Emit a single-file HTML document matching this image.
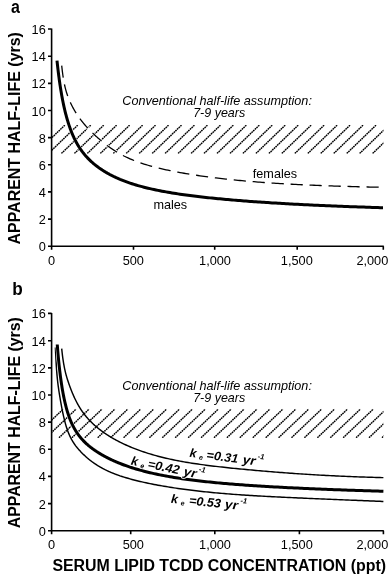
<!DOCTYPE html>
<html><head><meta charset="utf-8"><title>Apparent half-life vs serum lipid TCDD concentration</title>
<style>html,body{margin:0;padding:0;background:#fff}svg{display:block}</style></head><body>
<svg width="392" height="575" viewBox="0 0 392 575" font-family="'Liberation Sans', Arial, Helvetica, sans-serif" fill="#000">
<rect width="392" height="575" fill="#fff"/>
<g>
<clipPath id="ca"><rect x="51.6" y="124.7" width="331.9" height="29.1"/></clipPath>
<path d="M22.5,153.5 L52.0,125.0 M35.5,153.5 L65.0,125.0 M48.4,153.5 L77.9,125.0 M61.4,153.5 L90.9,125.0 M74.4,153.5 L103.9,125.0 M87.3,153.5 L116.8,125.0 M100.3,153.5 L129.8,125.0 M113.3,153.5 L142.8,125.0 M126.2,153.5 L155.7,125.0 M139.2,153.5 L168.7,125.0 M152.2,153.5 L181.7,125.0 M165.1,153.5 L194.6,125.0 M178.1,153.5 L207.6,125.0 M191.1,153.5 L220.6,125.0 M204.0,153.5 L233.5,125.0 M217.0,153.5 L246.5,125.0 M230.0,153.5 L259.5,125.0 M242.9,153.5 L272.4,125.0 M255.9,153.5 L285.4,125.0 M268.9,153.5 L298.4,125.0 M281.8,153.5 L311.3,125.0 M294.8,153.5 L324.3,125.0 M307.8,153.5 L337.3,125.0 M320.7,153.5 L350.2,125.0 M333.7,153.5 L363.2,125.0 M346.7,153.5 L376.2,125.0 M359.6,153.5 L389.1,125.0 M372.6,153.5 L402.1,125.0 M385.6,153.5 L415.1,125.0" stroke="#000" stroke-width="1.45" stroke-dasharray="1.7 0.6" fill="none" clip-path="url(#ca)"/>
<path d="M61.70,65.56 L61.95,67.89 L62.20,70.06 L62.45,72.09 L62.70,73.98 L62.95,75.75 L63.20,77.41 L63.45,78.97 L63.70,80.44 L63.95,81.82 L64.20,83.12 L64.45,84.34 L64.70,85.50 L64.95,86.60 L65.20,87.65 L65.45,88.64 L65.70,89.59 L65.95,90.49 L66.20,91.36 L66.45,92.19 L66.70,92.98 L66.95,93.75 L67.20,94.49 L67.45,95.21 L67.70,95.91 L67.95,96.59 L68.20,97.25 L68.45,97.89 L68.70,98.52 L68.95,99.14 L69.20,99.75 L69.45,100.34 L69.70,100.93 L69.95,101.50 L70.20,102.07 L70.45,102.62 L70.70,103.16 L70.95,103.70 L71.20,104.22 L71.45,104.74 L71.70,105.25 L71.95,105.75 L72.20,106.24 L72.45,106.72 L72.70,107.20 L72.95,107.67 L73.20,108.14 L73.45,108.59 L73.70,109.05 L73.95,109.49 L74.20,109.93 L74.45,110.36 L74.70,110.79 L74.95,111.21 L75.20,111.63 L75.45,112.04 L75.70,112.45 L75.95,112.85 L76.20,113.25 L76.45,113.64 L76.70,114.03 L76.95,114.41 L77.20,114.79 L77.45,115.16 L77.70,115.54 L77.95,115.90 L78.20,116.27 L78.45,116.63 L78.70,116.98 L78.95,117.34 L79.20,117.69 L79.45,118.03 L79.70,118.38 L79.95,118.72 L80.20,119.05 L80.45,119.39 L80.70,119.72 L80.95,120.05 L81.20,120.37 L81.45,120.70 L81.70,121.02 L81.95,121.34 L82.20,121.65 L82.45,121.96 L82.70,122.27 L82.95,122.58 L83.20,122.89 L83.45,123.19 L83.70,123.49 L83.95,123.79 L84.20,124.09 L84.45,124.38 L84.70,124.67 L84.95,124.96 L85.20,125.25 L85.45,125.54 L85.70,125.82 L85.95,126.10 L86.20,126.38 L86.45,126.66 L86.70,126.94 L86.95,127.22 L87.20,127.49 L87.45,127.76 L87.70,128.03 L87.95,128.30 L88.20,128.57 L88.45,128.83 L88.70,129.10 L88.95,129.36 L89.20,129.62 L89.45,129.88 L89.70,130.14 L89.95,130.39 L90.20,130.65 L90.45,130.90 L90.70,131.15 L90.95,131.40 L91.20,131.65 L91.45,131.90 L91.70,132.15 L91.95,132.39 L92.20,132.64 L92.45,132.88 L92.70,133.12 L92.95,133.37 L93.20,133.61 L93.45,133.84 L93.70,134.08 L93.95,134.32 L94.20,134.55 L94.45,134.79 L94.70,135.02 L94.95,135.25 L95.20,135.48 L95.45,135.71 L95.70,135.94 L95.95,136.17 L96.20,136.40 L96.45,136.62 L96.70,136.85 L96.95,137.07 L97.20,137.30 L97.45,137.52 L97.70,137.74 L97.95,137.96 L98.20,138.18 L98.45,138.40 L98.70,138.62 L98.95,138.83 L99.20,139.05 L99.45,139.27 L99.70,139.48 L99.95,139.69 L100.20,139.91 L100.45,140.12 L100.70,140.33 L100.95,140.54 L101.20,140.75 L101.45,140.96 L101.70,141.17 L101.95,141.37 L102.20,141.58 L102.45,141.78 L102.70,141.99 L102.95,142.19 L103.20,142.39 L103.45,142.59 L103.70,142.79 L103.95,142.99 L104.20,143.19 L104.45,143.39 L104.70,143.58 L104.95,143.78 L105.20,143.97 L105.45,144.17 L105.70,144.36 L105.95,144.55 L106.20,144.74 L106.45,144.93 L106.70,145.12 L106.95,145.31 L107.20,145.50 L107.45,145.68 L107.70,145.87 L107.95,146.05 L108.20,146.24 L108.45,146.42 L108.70,146.60 L108.95,146.78 L109.20,146.96 L109.45,147.14 L109.70,147.32 L109.95,147.49 L110.20,147.67 L110.45,147.84 L110.70,148.02 L110.95,148.19 L111.20,148.36 L111.45,148.53 L111.70,148.70 L111.95,148.87 L112.20,149.04 L112.45,149.21 L112.70,149.38 L112.95,149.54 L113.20,149.71 L113.45,149.87 L113.70,150.03 L113.95,150.20 L114.20,150.36 L114.45,150.52 L114.70,150.68 L114.95,150.84 L115.20,150.99 L115.45,151.15 L115.70,151.31 L115.95,151.46 L116.20,151.62 L116.45,151.77 L116.70,151.92 L116.95,152.07 L117.20,152.22 L117.45,152.37 L117.70,152.52 L117.95,152.67 L118.20,152.82 L118.45,152.97 L118.70,153.11 L118.95,153.26 L119.20,153.40 L119.45,153.54 L119.70,153.68 L119.95,153.83 L120.00,153.85 L122.00,154.95 L124.00,156.00 L126.00,156.99 L128.00,157.94 L130.00,158.84 L132.00,159.69 L134.00,160.50 L136.00,161.27 L138.00,162.01 L140.00,162.71 L142.00,163.39 L144.00,164.03 L146.00,164.65 L148.00,165.25 L150.00,165.82 L152.00,166.38 L154.00,166.91 L156.00,167.42 L158.00,167.92 L160.00,168.40 L162.00,168.87 L164.00,169.32 L166.00,169.76 L168.00,170.19 L170.00,170.60 L172.00,171.01 L174.00,171.40 L176.00,171.79 L178.00,172.16 L180.00,172.53 L182.00,172.89 L184.00,173.24 L186.00,173.59 L188.00,173.92 L190.00,174.25 L192.00,174.57 L194.00,174.89 L196.00,175.19 L198.00,175.49 L200.00,175.79 L202.00,176.08 L204.00,176.36 L206.00,176.63 L208.00,176.90 L210.00,177.16 L212.00,177.42 L214.00,177.67 L216.00,177.92 L218.00,178.16 L220.00,178.40 L222.00,178.63 L224.00,178.86 L226.00,179.08 L228.00,179.29 L230.00,179.51 L232.00,179.71 L234.00,179.92 L236.00,180.11 L238.00,180.31 L240.00,180.50 L242.00,180.68 L244.00,180.87 L246.00,181.04 L248.00,181.22 L250.00,181.39 L252.00,181.56 L254.00,181.72 L256.00,181.88 L258.00,182.03 L260.00,182.19 L262.00,182.34 L264.00,182.48 L266.00,182.63 L268.00,182.77 L270.00,182.90 L272.00,183.04 L274.00,183.17 L276.00,183.30 L278.00,183.42 L280.00,183.54 L282.00,183.66 L284.00,183.78 L286.00,183.90 L288.00,184.01 L290.00,184.12 L292.00,184.23 L294.00,184.33 L296.00,184.44 L298.00,184.54 L300.00,184.64 L302.00,184.73 L304.00,184.83 L306.00,184.92 L308.00,185.01 L310.00,185.10 L312.00,185.19 L314.00,185.27 L316.00,185.36 L318.00,185.44 L320.00,185.52 L322.00,185.60 L324.00,185.67 L326.00,185.75 L328.00,185.82 L330.00,185.89 L332.00,185.96 L334.00,186.03 L336.00,186.10 L338.00,186.16 L340.00,186.23 L342.00,186.29 L344.00,186.35 L346.00,186.41 L348.00,186.47 L350.00,186.52 L352.00,186.58 L354.00,186.64 L356.00,186.69 L358.00,186.74 L360.00,186.79 L362.00,186.84 L364.00,186.89 L366.00,186.94 L368.00,186.98 L370.00,187.03 L372.00,187.07 L374.00,187.11 L376.00,187.16 L378.00,187.20 L378.70,187.21" stroke="#fff" stroke-width="2.6" fill="none"/>
<path d="M61.70,65.56 L61.95,67.89 L62.20,70.06 L62.45,72.09 L62.70,73.98 L62.95,75.75 L63.20,77.41 L63.45,78.97 L63.70,80.44 L63.95,81.82 L64.20,83.12 L64.45,84.34 L64.70,85.50 L64.95,86.60 L65.20,87.65 L65.45,88.64 L65.70,89.59 L65.95,90.49 L66.20,91.36 L66.45,92.19 L66.70,92.98 L66.95,93.75 L67.20,94.49 L67.45,95.21 L67.70,95.91 L67.95,96.59 L68.20,97.25 L68.45,97.89 L68.70,98.52 L68.95,99.14 L69.20,99.75 L69.45,100.34 L69.70,100.93 L69.95,101.50 L70.20,102.07 L70.45,102.62 L70.70,103.16 L70.95,103.70 L71.20,104.22 L71.45,104.74 L71.70,105.25 L71.95,105.75 L72.20,106.24 L72.45,106.72 L72.70,107.20 L72.95,107.67 L73.20,108.14 L73.45,108.59 L73.70,109.05 L73.95,109.49 L74.20,109.93 L74.45,110.36 L74.70,110.79 L74.95,111.21 L75.20,111.63 L75.45,112.04 L75.70,112.45 L75.95,112.85 L76.20,113.25 L76.45,113.64 L76.70,114.03 L76.95,114.41 L77.20,114.79 L77.45,115.16 L77.70,115.54 L77.95,115.90 L78.20,116.27 L78.45,116.63 L78.70,116.98 L78.95,117.34 L79.20,117.69 L79.45,118.03 L79.70,118.38 L79.95,118.72 L80.20,119.05 L80.45,119.39 L80.70,119.72 L80.95,120.05 L81.20,120.37 L81.45,120.70 L81.70,121.02 L81.95,121.34 L82.20,121.65 L82.45,121.96 L82.70,122.27 L82.95,122.58 L83.20,122.89 L83.45,123.19 L83.70,123.49 L83.95,123.79 L84.20,124.09 L84.45,124.38 L84.70,124.67 L84.95,124.96 L85.20,125.25 L85.45,125.54 L85.70,125.82 L85.95,126.10 L86.20,126.38 L86.45,126.66 L86.70,126.94 L86.95,127.22 L87.20,127.49 L87.45,127.76 L87.70,128.03 L87.95,128.30 L88.20,128.57 L88.45,128.83 L88.70,129.10 L88.95,129.36 L89.20,129.62 L89.45,129.88 L89.70,130.14 L89.95,130.39 L90.20,130.65 L90.45,130.90 L90.70,131.15 L90.95,131.40 L91.20,131.65 L91.45,131.90 L91.70,132.15 L91.95,132.39 L92.20,132.64 L92.45,132.88 L92.70,133.12 L92.95,133.37 L93.20,133.61 L93.45,133.84 L93.70,134.08 L93.95,134.32 L94.20,134.55 L94.45,134.79 L94.70,135.02 L94.95,135.25 L95.20,135.48 L95.45,135.71 L95.70,135.94 L95.95,136.17 L96.20,136.40 L96.45,136.62 L96.70,136.85 L96.95,137.07 L97.20,137.30 L97.45,137.52 L97.70,137.74 L97.95,137.96 L98.20,138.18 L98.45,138.40 L98.70,138.62 L98.95,138.83 L99.20,139.05 L99.45,139.27 L99.70,139.48 L99.95,139.69 L100.20,139.91 L100.45,140.12 L100.70,140.33 L100.95,140.54 L101.20,140.75 L101.45,140.96 L101.70,141.17 L101.95,141.37 L102.20,141.58 L102.45,141.78 L102.70,141.99 L102.95,142.19 L103.20,142.39 L103.45,142.59 L103.70,142.79 L103.95,142.99 L104.20,143.19 L104.45,143.39 L104.70,143.58 L104.95,143.78 L105.20,143.97 L105.45,144.17 L105.70,144.36 L105.95,144.55 L106.20,144.74 L106.45,144.93 L106.70,145.12 L106.95,145.31 L107.20,145.50 L107.45,145.68 L107.70,145.87 L107.95,146.05 L108.20,146.24 L108.45,146.42 L108.70,146.60 L108.95,146.78 L109.20,146.96 L109.45,147.14 L109.70,147.32 L109.95,147.49 L110.20,147.67 L110.45,147.84 L110.70,148.02 L110.95,148.19 L111.20,148.36 L111.45,148.53 L111.70,148.70 L111.95,148.87 L112.20,149.04 L112.45,149.21 L112.70,149.38 L112.95,149.54 L113.20,149.71 L113.45,149.87 L113.70,150.03 L113.95,150.20 L114.20,150.36 L114.45,150.52 L114.70,150.68 L114.95,150.84 L115.20,150.99 L115.45,151.15 L115.70,151.31 L115.95,151.46 L116.20,151.62 L116.45,151.77 L116.70,151.92 L116.95,152.07 L117.20,152.22 L117.45,152.37 L117.70,152.52 L117.95,152.67 L118.20,152.82 L118.45,152.97 L118.70,153.11 L118.95,153.26 L119.20,153.40 L119.45,153.54 L119.70,153.68 L119.95,153.83 L120.00,153.85 L122.00,154.95 L124.00,156.00 L126.00,156.99 L128.00,157.94 L130.00,158.84 L132.00,159.69 L134.00,160.50 L136.00,161.27 L138.00,162.01 L140.00,162.71 L142.00,163.39 L144.00,164.03 L146.00,164.65 L148.00,165.25 L150.00,165.82 L152.00,166.38 L154.00,166.91 L156.00,167.42 L158.00,167.92 L160.00,168.40 L162.00,168.87 L164.00,169.32 L166.00,169.76 L168.00,170.19 L170.00,170.60 L172.00,171.01 L174.00,171.40 L176.00,171.79 L178.00,172.16 L180.00,172.53 L182.00,172.89 L184.00,173.24 L186.00,173.59 L188.00,173.92 L190.00,174.25 L192.00,174.57 L194.00,174.89 L196.00,175.19 L198.00,175.49 L200.00,175.79 L202.00,176.08 L204.00,176.36 L206.00,176.63 L208.00,176.90 L210.00,177.16 L212.00,177.42 L214.00,177.67 L216.00,177.92 L218.00,178.16 L220.00,178.40 L222.00,178.63 L224.00,178.86 L226.00,179.08 L228.00,179.29 L230.00,179.51 L232.00,179.71 L234.00,179.92 L236.00,180.11 L238.00,180.31 L240.00,180.50 L242.00,180.68 L244.00,180.87 L246.00,181.04 L248.00,181.22 L250.00,181.39 L252.00,181.56 L254.00,181.72 L256.00,181.88 L258.00,182.03 L260.00,182.19 L262.00,182.34 L264.00,182.48 L266.00,182.63 L268.00,182.77 L270.00,182.90 L272.00,183.04 L274.00,183.17 L276.00,183.30 L278.00,183.42 L280.00,183.54 L282.00,183.66 L284.00,183.78 L286.00,183.90 L288.00,184.01 L290.00,184.12 L292.00,184.23 L294.00,184.33 L296.00,184.44 L298.00,184.54 L300.00,184.64 L302.00,184.73 L304.00,184.83 L306.00,184.92 L308.00,185.01 L310.00,185.10 L312.00,185.19 L314.00,185.27 L316.00,185.36 L318.00,185.44 L320.00,185.52 L322.00,185.60 L324.00,185.67 L326.00,185.75 L328.00,185.82 L330.00,185.89 L332.00,185.96 L334.00,186.03 L336.00,186.10 L338.00,186.16 L340.00,186.23 L342.00,186.29 L344.00,186.35 L346.00,186.41 L348.00,186.47 L350.00,186.52 L352.00,186.58 L354.00,186.64 L356.00,186.69 L358.00,186.74 L360.00,186.79 L362.00,186.84 L364.00,186.89 L366.00,186.94 L368.00,186.98 L370.00,187.03 L372.00,187.07 L374.00,187.11 L376.00,187.16 L378.00,187.20 L378.70,187.21" stroke="#000" stroke-width="1.3" fill="none" stroke-dasharray="12.2 6.8"/>
<path d="M57.01,60.70 L57.25,63.00 L57.50,65.28 L57.75,67.50 L58.00,69.65 L58.25,71.73 L58.50,73.75 L58.75,75.71 L59.00,77.61 L59.25,79.46 L59.50,81.26 L59.75,83.00 L60.00,84.70 L60.25,86.36 L60.50,87.97 L60.75,89.54 L61.00,91.06 L61.25,92.55 L61.50,94.00 L61.75,95.42 L62.00,96.79 L62.25,98.14 L62.50,99.45 L62.75,100.73 L63.00,101.99 L63.25,103.21 L63.50,104.40 L63.75,105.57 L64.00,106.71 L64.25,107.83 L64.50,108.92 L64.75,109.98 L65.00,111.03 L65.25,112.05 L65.50,113.05 L65.75,114.03 L66.00,114.99 L66.25,115.93 L66.50,116.85 L66.75,117.75 L67.00,118.63 L67.25,119.50 L67.50,120.35 L67.75,121.19 L68.00,122.00 L68.25,122.80 L68.50,123.59 L68.75,124.36 L69.00,125.12 L69.25,125.87 L69.50,126.60 L69.75,127.31 L70.00,128.02 L70.25,128.71 L70.50,129.39 L70.75,130.06 L71.00,130.71 L71.25,131.36 L71.50,131.99 L71.75,132.62 L72.00,133.23 L72.25,133.83 L72.50,134.42 L72.75,135.00 L73.00,135.58 L73.25,136.14 L73.50,136.69 L73.75,137.24 L74.00,137.77 L74.25,138.30 L74.50,138.82 L74.75,139.33 L75.00,139.83 L75.25,140.33 L75.50,140.81 L75.75,141.29 L76.00,141.76 L76.25,142.23 L76.50,142.69 L76.75,143.14 L77.00,143.58 L77.25,144.02 L77.50,144.45 L77.75,144.88 L78.00,145.30 L78.25,145.71 L78.50,146.12 L78.75,146.52 L79.00,146.91 L79.25,147.31 L79.50,147.69 L79.75,148.07 L80.00,148.45 L80.25,148.82 L80.50,149.19 L80.75,149.55 L81.00,149.90 L81.25,150.26 L81.50,150.60 L81.75,150.95 L82.00,151.29 L82.25,151.62 L82.50,151.96 L82.75,152.28 L83.00,152.61 L83.25,152.93 L83.50,153.24 L83.75,153.56 L84.00,153.86 L84.25,154.17 L84.50,154.47 L84.75,154.77 L85.00,155.07 L85.25,155.36 L85.50,155.65 L85.75,155.93 L86.00,156.22 L86.25,156.50 L86.50,156.77 L86.75,157.05 L87.00,157.32 L87.25,157.59 L87.50,157.85 L87.75,158.12 L88.00,158.38 L88.25,158.64 L88.50,158.89 L88.75,159.14 L89.00,159.39 L89.25,159.64 L89.50,159.89 L89.75,160.13 L90.00,160.37 L90.25,160.61 L90.50,160.85 L90.75,161.08 L91.00,161.32 L91.25,161.55 L91.50,161.77 L91.75,162.00 L92.00,162.22 L92.25,162.45 L92.50,162.67 L92.75,162.89 L93.00,163.10 L93.25,163.32 L93.50,163.53 L93.75,163.74 L94.00,163.95 L94.25,164.16 L94.50,164.36 L94.75,164.57 L95.00,164.77 L95.25,164.97 L95.50,165.17 L95.75,165.37 L96.00,165.57 L96.25,165.76 L96.50,165.95 L96.75,166.14 L97.00,166.34 L97.25,166.52 L97.50,166.71 L97.75,166.90 L98.00,167.08 L98.25,167.27 L98.50,167.45 L98.75,167.63 L99.00,167.81 L99.25,167.99 L99.50,168.16 L99.75,168.34 L100.00,168.51 L100.25,168.68 L100.50,168.86 L100.75,169.03 L101.00,169.20 L101.25,169.36 L101.50,169.53 L101.75,169.70 L102.00,169.86 L102.25,170.03 L102.50,170.19 L102.75,170.35 L103.00,170.51 L103.25,170.67 L103.50,170.83 L103.75,170.98 L104.00,171.14 L104.25,171.29 L104.50,171.45 L104.75,171.60 L105.00,171.75 L105.25,171.90 L105.50,172.05 L105.75,172.20 L106.00,172.35 L106.25,172.49 L106.50,172.64 L106.75,172.79 L107.00,172.93 L107.25,173.07 L107.50,173.21 L107.75,173.36 L108.00,173.50 L108.25,173.63 L108.50,173.77 L108.75,173.91 L109.00,174.05 L109.25,174.18 L109.50,174.32 L109.75,174.45 L110.00,174.59 L110.25,174.72 L110.50,174.85 L110.75,174.98 L111.00,175.11 L111.25,175.24 L111.50,175.37 L111.75,175.50 L112.00,175.62 L112.25,175.75 L112.50,175.87 L112.75,176.00 L113.00,176.12 L113.25,176.24 L113.50,176.37 L113.75,176.49 L114.00,176.61 L114.25,176.73 L114.50,176.85 L114.75,176.97 L115.00,177.09 L115.25,177.20 L115.50,177.32 L115.75,177.44 L116.00,177.55 L116.25,177.66 L116.50,177.78 L116.75,177.89 L117.00,178.00 L117.25,178.12 L117.50,178.23 L117.75,178.34 L118.00,178.45 L118.25,178.56 L118.50,178.67 L118.75,178.77 L119.00,178.88 L119.25,178.99 L119.50,179.10 L119.75,179.20 L120.00,179.31 L122.00,180.13 L124.00,180.91 L126.00,181.66 L128.00,182.38 L130.00,183.07 L132.00,183.73 L134.00,184.37 L136.00,184.98 L138.00,185.57 L140.00,186.13 L142.00,186.67 L144.00,187.20 L146.00,187.70 L148.00,188.19 L150.00,188.66 L152.00,189.11 L154.00,189.55 L156.00,189.97 L158.00,190.38 L160.00,190.78 L162.00,191.16 L164.00,191.53 L166.00,191.90 L168.00,192.25 L170.00,192.59 L172.00,192.92 L174.00,193.24 L176.00,193.56 L178.00,193.86 L180.00,194.16 L182.00,194.45 L184.00,194.73 L186.00,195.01 L188.00,195.28 L190.00,195.54 L192.00,195.80 L194.00,196.05 L196.00,196.29 L198.00,196.53 L200.00,196.77 L202.00,197.00 L204.00,197.22 L206.00,197.44 L208.00,197.66 L210.00,197.87 L212.00,198.07 L214.00,198.28 L216.00,198.48 L218.00,198.67 L220.00,198.86 L222.00,199.05 L224.00,199.24 L226.00,199.42 L228.00,199.60 L230.00,199.77 L232.00,199.95 L234.00,200.12 L236.00,200.28 L238.00,200.45 L240.00,200.61 L242.00,200.77 L244.00,200.93 L246.00,201.08 L248.00,201.23 L250.00,201.38 L252.00,201.53 L254.00,201.67 L256.00,201.81 L258.00,201.95 L260.00,202.09 L262.00,202.23 L264.00,202.36 L266.00,202.49 L268.00,202.62 L270.00,202.75 L272.00,202.88 L274.00,203.00 L276.00,203.12 L278.00,203.24 L280.00,203.36 L282.00,203.48 L284.00,203.60 L286.00,203.71 L288.00,203.82 L290.00,203.93 L292.00,204.04 L294.00,204.15 L296.00,204.25 L298.00,204.36 L300.00,204.46 L302.00,204.56 L304.00,204.66 L306.00,204.76 L308.00,204.86 L310.00,204.95 L312.00,205.05 L314.00,205.14 L316.00,205.23 L318.00,205.33 L320.00,205.42 L322.00,205.50 L324.00,205.59 L326.00,205.68 L328.00,205.76 L330.00,205.85 L332.00,205.93 L334.00,206.01 L336.00,206.09 L338.00,206.17 L340.00,206.25 L342.00,206.33 L344.00,206.40 L346.00,206.48 L348.00,206.56 L350.00,206.63 L352.00,206.70 L354.00,206.77 L356.00,206.84 L358.00,206.91 L360.00,206.98 L362.00,207.05 L364.00,207.12 L366.00,207.19 L368.00,207.25 L370.00,207.32 L372.00,207.38 L374.00,207.44 L376.00,207.51 L378.00,207.57 L380.00,207.63 L382.00,207.69 L383.00,207.72" stroke="#fff" stroke-width="3.8" fill="none"/>
<path d="M57.01,60.70 L57.25,63.00 L57.50,65.28 L57.75,67.50 L58.00,69.65 L58.25,71.73 L58.50,73.75 L58.75,75.71 L59.00,77.61 L59.25,79.46 L59.50,81.26 L59.75,83.00 L60.00,84.70 L60.25,86.36 L60.50,87.97 L60.75,89.54 L61.00,91.06 L61.25,92.55 L61.50,94.00 L61.75,95.42 L62.00,96.79 L62.25,98.14 L62.50,99.45 L62.75,100.73 L63.00,101.99 L63.25,103.21 L63.50,104.40 L63.75,105.57 L64.00,106.71 L64.25,107.83 L64.50,108.92 L64.75,109.98 L65.00,111.03 L65.25,112.05 L65.50,113.05 L65.75,114.03 L66.00,114.99 L66.25,115.93 L66.50,116.85 L66.75,117.75 L67.00,118.63 L67.25,119.50 L67.50,120.35 L67.75,121.19 L68.00,122.00 L68.25,122.80 L68.50,123.59 L68.75,124.36 L69.00,125.12 L69.25,125.87 L69.50,126.60 L69.75,127.31 L70.00,128.02 L70.25,128.71 L70.50,129.39 L70.75,130.06 L71.00,130.71 L71.25,131.36 L71.50,131.99 L71.75,132.62 L72.00,133.23 L72.25,133.83 L72.50,134.42 L72.75,135.00 L73.00,135.58 L73.25,136.14 L73.50,136.69 L73.75,137.24 L74.00,137.77 L74.25,138.30 L74.50,138.82 L74.75,139.33 L75.00,139.83 L75.25,140.33 L75.50,140.81 L75.75,141.29 L76.00,141.76 L76.25,142.23 L76.50,142.69 L76.75,143.14 L77.00,143.58 L77.25,144.02 L77.50,144.45 L77.75,144.88 L78.00,145.30 L78.25,145.71 L78.50,146.12 L78.75,146.52 L79.00,146.91 L79.25,147.31 L79.50,147.69 L79.75,148.07 L80.00,148.45 L80.25,148.82 L80.50,149.19 L80.75,149.55 L81.00,149.90 L81.25,150.26 L81.50,150.60 L81.75,150.95 L82.00,151.29 L82.25,151.62 L82.50,151.96 L82.75,152.28 L83.00,152.61 L83.25,152.93 L83.50,153.24 L83.75,153.56 L84.00,153.86 L84.25,154.17 L84.50,154.47 L84.75,154.77 L85.00,155.07 L85.25,155.36 L85.50,155.65 L85.75,155.93 L86.00,156.22 L86.25,156.50 L86.50,156.77 L86.75,157.05 L87.00,157.32 L87.25,157.59 L87.50,157.85 L87.75,158.12 L88.00,158.38 L88.25,158.64 L88.50,158.89 L88.75,159.14 L89.00,159.39 L89.25,159.64 L89.50,159.89 L89.75,160.13 L90.00,160.37 L90.25,160.61 L90.50,160.85 L90.75,161.08 L91.00,161.32 L91.25,161.55 L91.50,161.77 L91.75,162.00 L92.00,162.22 L92.25,162.45 L92.50,162.67 L92.75,162.89 L93.00,163.10 L93.25,163.32 L93.50,163.53 L93.75,163.74 L94.00,163.95 L94.25,164.16 L94.50,164.36 L94.75,164.57 L95.00,164.77 L95.25,164.97 L95.50,165.17 L95.75,165.37 L96.00,165.57 L96.25,165.76 L96.50,165.95 L96.75,166.14 L97.00,166.34 L97.25,166.52 L97.50,166.71 L97.75,166.90 L98.00,167.08 L98.25,167.27 L98.50,167.45 L98.75,167.63 L99.00,167.81 L99.25,167.99 L99.50,168.16 L99.75,168.34 L100.00,168.51 L100.25,168.68 L100.50,168.86 L100.75,169.03 L101.00,169.20 L101.25,169.36 L101.50,169.53 L101.75,169.70 L102.00,169.86 L102.25,170.03 L102.50,170.19 L102.75,170.35 L103.00,170.51 L103.25,170.67 L103.50,170.83 L103.75,170.98 L104.00,171.14 L104.25,171.29 L104.50,171.45 L104.75,171.60 L105.00,171.75 L105.25,171.90 L105.50,172.05 L105.75,172.20 L106.00,172.35 L106.25,172.49 L106.50,172.64 L106.75,172.79 L107.00,172.93 L107.25,173.07 L107.50,173.21 L107.75,173.36 L108.00,173.50 L108.25,173.63 L108.50,173.77 L108.75,173.91 L109.00,174.05 L109.25,174.18 L109.50,174.32 L109.75,174.45 L110.00,174.59 L110.25,174.72 L110.50,174.85 L110.75,174.98 L111.00,175.11 L111.25,175.24 L111.50,175.37 L111.75,175.50 L112.00,175.62 L112.25,175.75 L112.50,175.87 L112.75,176.00 L113.00,176.12 L113.25,176.24 L113.50,176.37 L113.75,176.49 L114.00,176.61 L114.25,176.73 L114.50,176.85 L114.75,176.97 L115.00,177.09 L115.25,177.20 L115.50,177.32 L115.75,177.44 L116.00,177.55 L116.25,177.66 L116.50,177.78 L116.75,177.89 L117.00,178.00 L117.25,178.12 L117.50,178.23 L117.75,178.34 L118.00,178.45 L118.25,178.56 L118.50,178.67 L118.75,178.77 L119.00,178.88 L119.25,178.99 L119.50,179.10 L119.75,179.20 L120.00,179.31 L122.00,180.13 L124.00,180.91 L126.00,181.66 L128.00,182.38 L130.00,183.07 L132.00,183.73 L134.00,184.37 L136.00,184.98 L138.00,185.57 L140.00,186.13 L142.00,186.67 L144.00,187.20 L146.00,187.70 L148.00,188.19 L150.00,188.66 L152.00,189.11 L154.00,189.55 L156.00,189.97 L158.00,190.38 L160.00,190.78 L162.00,191.16 L164.00,191.53 L166.00,191.90 L168.00,192.25 L170.00,192.59 L172.00,192.92 L174.00,193.24 L176.00,193.56 L178.00,193.86 L180.00,194.16 L182.00,194.45 L184.00,194.73 L186.00,195.01 L188.00,195.28 L190.00,195.54 L192.00,195.80 L194.00,196.05 L196.00,196.29 L198.00,196.53 L200.00,196.77 L202.00,197.00 L204.00,197.22 L206.00,197.44 L208.00,197.66 L210.00,197.87 L212.00,198.07 L214.00,198.28 L216.00,198.48 L218.00,198.67 L220.00,198.86 L222.00,199.05 L224.00,199.24 L226.00,199.42 L228.00,199.60 L230.00,199.77 L232.00,199.95 L234.00,200.12 L236.00,200.28 L238.00,200.45 L240.00,200.61 L242.00,200.77 L244.00,200.93 L246.00,201.08 L248.00,201.23 L250.00,201.38 L252.00,201.53 L254.00,201.67 L256.00,201.81 L258.00,201.95 L260.00,202.09 L262.00,202.23 L264.00,202.36 L266.00,202.49 L268.00,202.62 L270.00,202.75 L272.00,202.88 L274.00,203.00 L276.00,203.12 L278.00,203.24 L280.00,203.36 L282.00,203.48 L284.00,203.60 L286.00,203.71 L288.00,203.82 L290.00,203.93 L292.00,204.04 L294.00,204.15 L296.00,204.25 L298.00,204.36 L300.00,204.46 L302.00,204.56 L304.00,204.66 L306.00,204.76 L308.00,204.86 L310.00,204.95 L312.00,205.05 L314.00,205.14 L316.00,205.23 L318.00,205.33 L320.00,205.42 L322.00,205.50 L324.00,205.59 L326.00,205.68 L328.00,205.76 L330.00,205.85 L332.00,205.93 L334.00,206.01 L336.00,206.09 L338.00,206.17 L340.00,206.25 L342.00,206.33 L344.00,206.40 L346.00,206.48 L348.00,206.56 L350.00,206.63 L352.00,206.70 L354.00,206.77 L356.00,206.84 L358.00,206.91 L360.00,206.98 L362.00,207.05 L364.00,207.12 L366.00,207.19 L368.00,207.25 L370.00,207.32 L372.00,207.38 L374.00,207.44 L376.00,207.51 L378.00,207.57 L380.00,207.63 L382.00,207.69 L383.00,207.72" stroke="#000" stroke-width="3.0" fill="none"/>
<path d="M51.6,28.5 V249.8 M48,246.2 H383.8 M48,246.2 H51.6 M48,219.1 H51.6 M48,191.9 H51.6 M48,164.8 H51.6 M48,137.6 H51.6 M48,110.5 H51.6 M48,83.4 H51.6 M48,56.2 H51.6 M48,29.0 H51.6 M133.5,246.2 V249.8 M214.7,246.2 V249.8 M297.2,246.2 V249.8 M383.3,246.2 V249.8" stroke="#000" stroke-width="1.6" fill="none"/>
<text transform="translate(45.8,251.2) scale(0.96,1)" text-anchor="end" font-size="13.3">0</text>
<text transform="translate(45.8,224.1) scale(0.96,1)" text-anchor="end" font-size="13.3">2</text>
<text transform="translate(45.8,196.9) scale(0.96,1)" text-anchor="end" font-size="13.3">4</text>
<text transform="translate(45.8,169.8) scale(0.96,1)" text-anchor="end" font-size="13.3">6</text>
<text transform="translate(45.8,142.6) scale(0.96,1)" text-anchor="end" font-size="13.3">8</text>
<text transform="translate(45.8,115.5) scale(0.96,1)" text-anchor="end" font-size="13.3">10</text>
<text transform="translate(45.8,88.4) scale(0.96,1)" text-anchor="end" font-size="13.3">12</text>
<text transform="translate(45.8,61.2) scale(0.96,1)" text-anchor="end" font-size="13.3">14</text>
<text transform="translate(45.8,34.0) scale(0.96,1)" text-anchor="end" font-size="13.3">16</text>
<text transform="translate(51.6,265.3) scale(0.96,1)" text-anchor="middle" font-size="13.3">0</text>
<text transform="translate(133.3,265.3) scale(0.96,1)" text-anchor="middle" font-size="13.3">500</text>
<text transform="translate(215,265.3) scale(0.96,1)" text-anchor="middle" font-size="13.3">1,000</text>
<text transform="translate(296.8,265.3) scale(0.96,1)" text-anchor="middle" font-size="13.3">1,500</text>
<text transform="translate(388.3,265.3) scale(0.96,1)" text-anchor="end" font-size="13.3">2,000</text>
<text transform="translate(19.9,244.5) rotate(-90)" font-size="16" font-weight="bold" textLength="212.4" lengthAdjust="spacingAndGlyphs">APPARENT HALF-LIFE (yrs)</text>
<text x="122.3" y="104.8" font-size="12.4" font-style="italic" textLength="189.6" lengthAdjust="spacingAndGlyphs">Conventional half-life assumption:</text>
<text x="193.2" y="116.8" font-size="12.4" font-style="italic" textLength="52" lengthAdjust="spacingAndGlyphs">7-9 years</text>
</g>
<g>
<clipPath id="cb"><rect x="51.6" y="408.8" width="331.9" height="29.2"/></clipPath>
<path d="M20.2,437.7 L50.3,409.1 M33.1,437.7 L63.2,409.1 M46.0,437.7 L76.1,409.1 M59.0,437.7 L89.1,409.1 M71.9,437.7 L102.0,409.1 M84.8,437.7 L114.9,409.1 M97.7,437.7 L127.8,409.1 M110.6,437.7 L140.7,409.1 M123.6,437.7 L153.7,409.1 M136.5,437.7 L166.6,409.1 M149.4,437.7 L179.5,409.1 M162.3,437.7 L192.4,409.1 M175.2,437.7 L205.3,409.1 M188.2,437.7 L218.3,409.1 M201.1,437.7 L231.2,409.1 M214.0,437.7 L244.1,409.1 M226.9,437.7 L257.0,409.1 M239.8,437.7 L269.9,409.1 M252.8,437.7 L282.9,409.1 M265.7,437.7 L295.8,409.1 M278.6,437.7 L308.7,409.1 M291.5,437.7 L321.6,409.1 M304.4,437.7 L334.5,409.1 M317.4,437.7 L347.5,409.1 M330.3,437.7 L360.4,409.1 M343.2,437.7 L373.3,409.1 M356.1,437.7 L386.2,409.1 M369.0,437.7 L399.1,409.1 M382.0,437.7 L412.1,409.1" stroke="#000" stroke-width="1.45" stroke-dasharray="1.7 0.6" fill="none" clip-path="url(#cb)"/>
<path d="M61.70,348.70 L61.95,351.03 L62.20,353.23 L62.45,355.29 L62.70,357.22 L62.95,359.03 L63.20,360.72 L63.45,362.32 L63.70,363.82 L63.95,365.24 L64.20,366.58 L64.45,367.85 L64.70,369.06 L64.95,370.21 L65.20,371.31 L65.45,372.35 L65.70,373.36 L65.95,374.32 L66.20,375.25 L66.45,376.15 L66.70,377.02 L66.95,377.86 L67.20,378.68 L67.45,379.48 L67.70,380.26 L67.95,381.03 L68.20,381.78 L68.45,382.52 L68.70,383.25 L68.95,383.97 L69.20,384.68 L69.45,385.38 L69.70,386.08 L69.95,386.76 L70.20,387.44 L70.45,388.10 L70.70,388.76 L70.95,389.41 L71.20,390.06 L71.45,390.69 L71.70,391.32 L71.95,391.93 L72.20,392.54 L72.45,393.15 L72.70,393.74 L72.95,394.33 L73.20,394.91 L73.45,395.48 L73.70,396.04 L73.95,396.60 L74.20,397.15 L74.45,397.69 L74.70,398.23 L74.95,398.75 L75.20,399.27 L75.45,399.79 L75.70,400.30 L75.95,400.80 L76.20,401.29 L76.45,401.78 L76.70,402.26 L76.95,402.74 L77.20,403.20 L77.45,403.67 L77.70,404.12 L77.95,404.57 L78.20,405.02 L78.45,405.46 L78.70,405.89 L78.95,406.32 L79.20,406.74 L79.45,407.16 L79.70,407.57 L79.95,407.97 L80.20,408.37 L80.45,408.76 L80.70,409.15 L80.95,409.54 L81.20,409.92 L81.45,410.29 L81.70,410.66 L81.95,411.02 L82.20,411.39 L82.45,411.74 L82.70,412.09 L82.95,412.44 L83.20,412.78 L83.45,413.12 L83.70,413.46 L83.95,413.79 L84.20,414.12 L84.45,414.44 L84.70,414.76 L84.95,415.08 L85.20,415.39 L85.45,415.70 L85.70,416.01 L85.95,416.32 L86.20,416.62 L86.45,416.91 L86.70,417.21 L86.95,417.50 L87.20,417.79 L87.45,418.07 L87.70,418.36 L87.95,418.64 L88.20,418.91 L88.45,419.19 L88.70,419.46 L88.95,419.73 L89.20,420.00 L89.45,420.26 L89.70,420.53 L89.95,420.79 L90.20,421.04 L90.45,421.30 L90.70,421.55 L90.95,421.80 L91.20,422.05 L91.45,422.30 L91.70,422.55 L91.95,422.79 L92.20,423.03 L92.45,423.27 L92.70,423.51 L92.95,423.74 L93.20,423.97 L93.45,424.21 L93.70,424.44 L93.95,424.66 L94.20,424.89 L94.45,425.11 L94.70,425.34 L94.95,425.56 L95.20,425.78 L95.45,426.00 L95.70,426.21 L95.95,426.43 L96.20,426.64 L96.45,426.85 L96.70,427.06 L96.95,427.27 L97.20,427.48 L97.45,427.69 L97.70,427.89 L97.95,428.10 L98.20,428.30 L98.45,428.50 L98.70,428.70 L98.95,428.90 L99.20,429.09 L99.45,429.29 L99.70,429.49 L99.95,429.68 L100.20,429.87 L100.45,430.06 L100.70,430.25 L100.95,430.44 L101.20,430.63 L101.45,430.82 L101.70,431.00 L101.95,431.19 L102.20,431.37 L102.45,431.55 L102.70,431.73 L102.95,431.91 L103.20,432.09 L103.45,432.27 L103.70,432.45 L103.95,432.62 L104.20,432.80 L104.45,432.97 L104.70,433.15 L104.95,433.32 L105.20,433.49 L105.45,433.66 L105.70,433.83 L105.95,434.00 L106.20,434.16 L106.45,434.33 L106.70,434.50 L106.95,434.66 L107.20,434.82 L107.45,434.99 L107.70,435.15 L107.95,435.31 L108.20,435.47 L108.45,435.63 L108.70,435.79 L108.95,435.94 L109.20,436.10 L109.45,436.26 L109.70,436.41 L109.95,436.57 L110.20,436.72 L110.45,436.87 L110.70,437.02 L110.95,437.17 L111.20,437.32 L111.45,437.47 L111.70,437.62 L111.95,437.77 L112.20,437.92 L112.45,438.06 L112.70,438.21 L112.95,438.35 L113.20,438.50 L113.45,438.64 L113.70,438.78 L113.95,438.93 L114.20,439.07 L114.45,439.21 L114.70,439.35 L114.95,439.49 L115.20,439.63 L115.45,439.76 L115.70,439.90 L115.95,440.04 L116.20,440.17 L116.45,440.31 L116.70,440.44 L116.95,440.58 L117.20,440.71 L117.45,440.84 L117.70,440.97 L117.95,441.10 L118.20,441.23 L118.45,441.36 L118.70,441.49 L118.95,441.62 L119.20,441.75 L119.45,441.88 L119.70,442.00 L119.95,442.13 L120.00,442.16 L122.00,443.14 L124.00,444.10 L126.00,445.02 L128.00,445.90 L130.00,446.76 L132.00,447.59 L134.00,448.39 L136.00,449.17 L138.00,449.92 L140.00,450.64 L142.00,451.34 L144.00,452.02 L146.00,452.68 L148.00,453.32 L150.00,453.93 L152.00,454.53 L154.00,455.10 L156.00,455.66 L158.00,456.20 L160.00,456.72 L162.00,457.23 L164.00,457.72 L166.00,458.20 L168.00,458.66 L170.00,459.10 L172.00,459.53 L174.00,459.95 L176.00,460.35 L178.00,460.74 L180.00,461.12 L182.00,461.49 L184.00,461.84 L186.00,462.19 L188.00,462.52 L190.00,462.85 L192.00,463.16 L194.00,463.47 L196.00,463.77 L198.00,464.06 L200.00,464.35 L202.00,464.63 L204.00,464.90 L206.00,465.16 L208.00,465.42 L210.00,465.67 L212.00,465.92 L214.00,466.16 L216.00,466.40 L218.00,466.63 L220.00,466.86 L222.00,467.09 L224.00,467.31 L226.00,467.53 L228.00,467.74 L230.00,467.95 L232.00,468.16 L234.00,468.36 L236.00,468.56 L238.00,468.76 L240.00,468.95 L242.00,469.14 L244.00,469.33 L246.00,469.52 L248.00,469.71 L250.00,469.89 L252.00,470.07 L254.00,470.25 L256.00,470.43 L258.00,470.61 L260.00,470.78 L262.00,470.95 L264.00,471.13 L266.00,471.29 L268.00,471.46 L270.00,471.63 L272.00,471.79 L274.00,471.95 L276.00,472.11 L278.00,472.27 L280.00,472.43 L282.00,472.58 L284.00,472.73 L286.00,472.88 L288.00,473.03 L290.00,473.17 L292.00,473.32 L294.00,473.46 L296.00,473.60 L298.00,473.74 L300.00,473.87 L302.00,474.00 L304.00,474.13 L306.00,474.26 L308.00,474.39 L310.00,474.51 L312.00,474.63 L314.00,474.75 L316.00,474.87 L318.00,474.99 L320.00,475.10 L322.00,475.21 L324.00,475.32 L326.00,475.43 L328.00,475.53 L330.00,475.64 L332.00,475.74 L334.00,475.84 L336.00,475.93 L338.00,476.03 L340.00,476.12 L342.00,476.21 L344.00,476.30 L346.00,476.39 L348.00,476.47 L350.00,476.55 L352.00,476.63 L354.00,476.71 L356.00,476.79 L358.00,476.86 L360.00,476.93 L362.00,477.00 L364.00,477.07 L366.00,477.14 L368.00,477.20 L370.00,477.26 L372.00,477.32 L374.00,477.38 L376.00,477.44 L378.00,477.49 L380.00,477.55 L382.00,477.60 L383.40,477.63" stroke="#000" stroke-width="1.45" fill="none"/>
<path d="M55.40,347.40 L55.65,353.34 L55.90,358.58 L56.15,363.15 L56.40,367.15 L56.65,370.69 L56.90,373.83 L57.15,376.64 L57.40,379.18 L57.65,381.50 L57.90,383.62 L58.15,385.60 L58.40,387.45 L58.65,389.21 L58.90,390.88 L59.15,392.50 L59.40,394.07 L59.65,395.61 L59.90,397.13 L60.15,398.62 L60.40,400.09 L60.65,401.54 L60.90,402.95 L61.15,404.34 L61.40,405.70 L61.65,407.03 L61.90,408.33 L62.15,409.61 L62.40,410.85 L62.65,412.07 L62.90,413.25 L63.15,414.41 L63.40,415.54 L63.65,416.64 L63.90,417.71 L64.15,418.76 L64.40,419.78 L64.65,420.77 L64.90,421.73 L65.15,422.67 L65.40,423.59 L65.65,424.47 L65.90,425.33 L66.15,426.17 L66.40,426.99 L66.65,427.77 L66.90,428.54 L67.15,429.28 L67.40,430.00 L67.65,430.70 L67.90,431.38 L68.15,432.03 L68.40,432.67 L68.65,433.29 L68.90,433.89 L69.15,434.48 L69.40,435.05 L69.65,435.60 L69.90,436.14 L70.15,436.67 L70.40,437.18 L70.65,437.68 L70.90,438.17 L71.15,438.65 L71.40,439.12 L71.65,439.57 L71.90,440.02 L72.15,440.45 L72.40,440.88 L72.65,441.30 L72.90,441.71 L73.15,442.11 L73.40,442.50 L73.65,442.89 L73.90,443.27 L74.15,443.64 L74.40,444.01 L74.65,444.37 L74.90,444.72 L75.15,445.07 L75.40,445.41 L75.65,445.74 L75.90,446.08 L76.15,446.40 L76.40,446.72 L76.65,447.04 L76.90,447.35 L77.15,447.66 L77.40,447.97 L77.65,448.27 L77.90,448.57 L78.15,448.86 L78.40,449.15 L78.65,449.44 L78.90,449.72 L79.15,450.00 L79.40,450.28 L79.65,450.55 L79.90,450.82 L80.15,451.09 L80.40,451.36 L80.65,451.63 L80.90,451.89 L81.15,452.15 L81.40,452.41 L81.65,452.66 L81.90,452.92 L82.15,453.17 L82.40,453.42 L82.65,453.67 L82.90,453.91 L83.15,454.16 L83.40,454.40 L83.65,454.64 L83.90,454.88 L84.15,455.11 L84.40,455.35 L84.65,455.58 L84.90,455.81 L85.15,456.04 L85.40,456.27 L85.65,456.49 L85.90,456.72 L86.15,456.94 L86.40,457.16 L86.65,457.38 L86.90,457.60 L87.15,457.81 L87.40,458.03 L87.65,458.24 L87.90,458.45 L88.15,458.66 L88.40,458.86 L88.65,459.07 L88.90,459.27 L89.15,459.47 L89.40,459.68 L89.65,459.87 L89.90,460.07 L90.15,460.27 L90.40,460.46 L90.65,460.66 L90.90,460.85 L91.15,461.04 L91.40,461.23 L91.65,461.42 L91.90,461.60 L92.15,461.79 L92.40,461.97 L92.65,462.15 L92.90,462.33 L93.15,462.51 L93.40,462.69 L93.65,462.86 L93.90,463.04 L94.15,463.21 L94.40,463.39 L94.65,463.56 L94.90,463.73 L95.15,463.89 L95.40,464.06 L95.65,464.23 L95.90,464.39 L96.15,464.56 L96.40,464.72 L96.65,464.88 L96.90,465.04 L97.15,465.20 L97.40,465.36 L97.65,465.51 L97.90,465.67 L98.15,465.82 L98.40,465.98 L98.65,466.13 L98.90,466.28 L99.15,466.43 L99.40,466.58 L99.65,466.72 L99.90,466.87 L100.15,467.02 L100.40,467.16 L100.65,467.30 L100.90,467.44 L101.15,467.59 L101.40,467.73 L101.65,467.87 L101.90,468.00 L102.15,468.14 L102.40,468.28 L102.65,468.41 L102.90,468.55 L103.15,468.68 L103.40,468.81 L103.65,468.94 L103.90,469.07 L104.15,469.20 L104.40,469.33 L104.65,469.46 L104.90,469.58 L105.15,469.71 L105.40,469.83 L105.65,469.96 L105.90,470.08 L106.15,470.20 L106.40,470.32 L106.65,470.44 L106.90,470.56 L107.15,470.68 L107.40,470.80 L107.65,470.91 L107.90,471.03 L108.15,471.15 L108.40,471.26 L108.65,471.37 L108.90,471.49 L109.15,471.60 L109.40,471.71 L109.65,471.82 L109.90,471.93 L110.15,472.04 L110.40,472.15 L110.65,472.25 L110.90,472.36 L111.15,472.47 L111.40,472.57 L111.65,472.68 L111.90,472.78 L112.15,472.88 L112.40,472.99 L112.65,473.09 L112.90,473.19 L113.15,473.29 L113.40,473.39 L113.65,473.49 L113.90,473.59 L114.15,473.68 L114.40,473.78 L114.65,473.88 L114.90,473.98 L115.15,474.07 L115.40,474.17 L115.65,474.26 L115.90,474.35 L116.15,474.45 L116.40,474.54 L116.65,474.63 L116.90,474.72 L117.15,474.82 L117.40,474.91 L117.65,475.00 L117.90,475.09 L118.15,475.18 L118.40,475.26 L118.65,475.35 L118.90,475.44 L119.15,475.53 L119.40,475.61 L119.65,475.70 L119.90,475.78 L120.00,475.82 L122.00,476.48 L124.00,477.12 L126.00,477.74 L128.00,478.32 L130.00,478.89 L132.00,479.44 L134.00,479.96 L136.00,480.47 L138.00,480.96 L140.00,481.44 L142.00,481.90 L144.00,482.35 L146.00,482.79 L148.00,483.21 L150.00,483.62 L152.00,484.02 L154.00,484.42 L156.00,484.80 L158.00,485.17 L160.00,485.54 L162.00,485.89 L164.00,486.24 L166.00,486.57 L168.00,486.90 L170.00,487.23 L172.00,487.54 L174.00,487.85 L176.00,488.15 L178.00,488.44 L180.00,488.72 L182.00,489.00 L184.00,489.27 L186.00,489.54 L188.00,489.80 L190.00,490.05 L192.00,490.30 L194.00,490.54 L196.00,490.78 L198.00,491.01 L200.00,491.23 L202.00,491.45 L204.00,491.67 L206.00,491.88 L208.00,492.08 L210.00,492.28 L212.00,492.48 L214.00,492.67 L216.00,492.86 L218.00,493.04 L220.00,493.22 L222.00,493.39 L224.00,493.56 L226.00,493.73 L228.00,493.89 L230.00,494.05 L232.00,494.20 L234.00,494.35 L236.00,494.50 L238.00,494.64 L240.00,494.78 L242.00,494.92 L244.00,495.05 L246.00,495.18 L248.00,495.31 L250.00,495.43 L252.00,495.56 L254.00,495.68 L256.00,495.80 L258.00,495.91 L260.00,496.03 L262.00,496.14 L264.00,496.25 L266.00,496.36 L268.00,496.46 L270.00,496.57 L272.00,496.67 L274.00,496.77 L276.00,496.88 L278.00,496.98 L280.00,497.07 L282.00,497.17 L284.00,497.27 L286.00,497.36 L288.00,497.46 L290.00,497.55 L292.00,497.64 L294.00,497.73 L296.00,497.82 L298.00,497.91 L300.00,498.00 L302.00,498.09 L304.00,498.18 L306.00,498.26 L308.00,498.35 L310.00,498.44 L312.00,498.52 L314.00,498.61 L316.00,498.69 L318.00,498.78 L320.00,498.86 L322.00,498.95 L324.00,499.03 L326.00,499.11 L328.00,499.20 L330.00,499.28 L332.00,499.36 L334.00,499.44 L336.00,499.52 L338.00,499.61 L340.00,499.69 L342.00,499.77 L344.00,499.85 L346.00,499.93 L348.00,500.01 L350.00,500.10 L352.00,500.18 L354.00,500.26 L356.00,500.34 L358.00,500.42 L360.00,500.50 L362.00,500.59 L364.00,500.67 L366.00,500.75 L368.00,500.83 L370.00,500.91 L372.00,500.99 L374.00,501.08 L376.00,501.16 L378.00,501.24 L380.00,501.32 L382.00,501.41 L383.40,501.46" stroke="#000" stroke-width="1.45" fill="none"/>
<path d="M57.25,344.50 L57.25,344.54 L57.50,347.72 L57.75,350.76 L58.00,353.67 L58.25,356.44 L58.50,359.10 L58.75,361.65 L59.00,364.09 L59.25,366.43 L59.50,368.69 L59.75,370.85 L60.00,372.94 L60.25,374.95 L60.50,376.88 L60.75,378.75 L61.00,380.55 L61.25,382.29 L61.50,383.97 L61.75,385.59 L62.00,387.16 L62.25,388.68 L62.50,390.15 L62.75,391.58 L63.00,392.96 L63.25,394.30 L63.50,395.59 L63.75,396.85 L64.00,398.07 L64.25,399.26 L64.50,400.41 L64.75,401.53 L65.00,402.62 L65.25,403.67 L65.50,404.70 L65.75,405.70 L66.00,406.67 L66.25,407.62 L66.50,408.54 L66.75,409.43 L67.00,410.30 L67.25,411.15 L67.50,411.98 L67.75,412.79 L68.00,413.57 L68.25,414.34 L68.50,415.09 L68.75,415.82 L69.00,416.53 L69.25,417.22 L69.50,417.90 L69.75,418.56 L70.00,419.20 L70.25,419.84 L70.50,420.45 L70.75,421.06 L71.00,421.65 L71.25,422.23 L71.50,422.79 L71.75,423.35 L72.00,423.89 L72.25,424.42 L72.50,424.94 L72.75,425.45 L73.00,425.95 L73.25,426.44 L73.50,426.92 L73.75,427.39 L74.00,427.85 L74.25,428.31 L74.50,428.75 L74.75,429.19 L75.00,429.62 L75.25,430.04 L75.50,430.46 L75.75,430.87 L76.00,431.27 L76.25,431.66 L76.50,432.05 L76.75,432.43 L77.00,432.81 L77.25,433.18 L77.50,433.54 L77.75,433.90 L78.00,434.25 L78.25,434.60 L78.50,434.94 L78.75,435.28 L79.00,435.61 L79.25,435.94 L79.50,436.26 L79.75,436.58 L80.00,436.89 L80.25,437.20 L80.50,437.50 L80.75,437.80 L81.00,438.10 L81.25,438.39 L81.50,438.68 L81.75,438.97 L82.00,439.25 L82.25,439.52 L82.50,439.80 L82.75,440.07 L83.00,440.34 L83.25,440.60 L83.50,440.86 L83.75,441.12 L84.00,441.38 L84.25,441.63 L84.50,441.88 L84.75,442.13 L85.00,442.37 L85.25,442.61 L85.50,442.85 L85.75,443.09 L86.00,443.32 L86.25,443.55 L86.50,443.78 L86.75,444.01 L87.00,444.23 L87.25,444.45 L87.50,444.67 L87.75,444.89 L88.00,445.11 L88.25,445.32 L88.50,445.53 L88.75,445.74 L89.00,445.95 L89.25,446.15 L89.50,446.36 L89.75,446.56 L90.00,446.76 L90.25,446.96 L90.50,447.16 L90.75,447.35 L91.00,447.55 L91.25,447.74 L91.50,447.93 L91.75,448.12 L92.00,448.30 L92.25,448.49 L92.50,448.67 L92.75,448.86 L93.00,449.04 L93.25,449.22 L93.50,449.40 L93.75,449.58 L94.00,449.75 L94.25,449.93 L94.50,450.10 L94.75,450.27 L95.00,450.45 L95.25,450.62 L95.50,450.78 L95.75,450.95 L96.00,451.12 L96.25,451.29 L96.50,451.45 L96.75,451.61 L97.00,451.78 L97.25,451.94 L97.50,452.10 L97.75,452.26 L98.00,452.42 L98.25,452.57 L98.50,452.73 L98.75,452.89 L99.00,453.04 L99.25,453.20 L99.50,453.35 L99.75,453.50 L100.00,453.65 L100.25,453.80 L100.50,453.95 L100.75,454.10 L101.00,454.25 L101.25,454.40 L101.50,454.54 L101.75,454.69 L102.00,454.83 L102.25,454.98 L102.50,455.12 L102.75,455.26 L103.00,455.40 L103.25,455.54 L103.50,455.68 L103.75,455.82 L104.00,455.96 L104.25,456.10 L104.50,456.23 L104.75,456.37 L105.00,456.51 L105.25,456.64 L105.50,456.77 L105.75,456.91 L106.00,457.04 L106.25,457.17 L106.50,457.30 L106.75,457.43 L107.00,457.56 L107.25,457.69 L107.50,457.82 L107.75,457.94 L108.00,458.07 L108.25,458.20 L108.50,458.32 L108.75,458.45 L109.00,458.57 L109.25,458.69 L109.50,458.82 L109.75,458.94 L110.00,459.06 L110.25,459.18 L110.50,459.30 L110.75,459.42 L111.00,459.54 L111.25,459.66 L111.50,459.78 L111.75,459.89 L112.00,460.01 L112.25,460.13 L112.50,460.24 L112.75,460.36 L113.00,460.47 L113.25,460.58 L113.50,460.70 L113.75,460.81 L114.00,460.92 L114.25,461.03 L114.50,461.14 L114.75,461.25 L115.00,461.36 L115.25,461.47 L115.50,461.58 L115.75,461.69 L116.00,461.80 L116.25,461.90 L116.50,462.01 L116.75,462.12 L117.00,462.22 L117.25,462.33 L117.50,462.43 L117.75,462.53 L118.00,462.64 L118.25,462.74 L118.50,462.84 L118.75,462.94 L119.00,463.05 L119.25,463.15 L119.50,463.25 L119.75,463.35 L120.00,463.45 L122.00,464.23 L124.00,464.98 L126.00,465.70 L128.00,466.40 L130.00,467.07 L132.00,467.72 L134.00,468.35 L136.00,468.95 L138.00,469.54 L140.00,470.10 L142.00,470.65 L144.00,471.18 L146.00,471.69 L148.00,472.19 L150.00,472.67 L152.00,473.14 L154.00,473.59 L156.00,474.03 L158.00,474.45 L160.00,474.86 L162.00,475.26 L164.00,475.65 L166.00,476.02 L168.00,476.39 L170.00,476.74 L172.00,477.08 L174.00,477.42 L176.00,477.74 L178.00,478.06 L180.00,478.36 L182.00,478.66 L184.00,478.95 L186.00,479.23 L188.00,479.50 L190.00,479.77 L192.00,480.03 L194.00,480.28 L196.00,480.52 L198.00,480.76 L200.00,481.00 L202.00,481.23 L204.00,481.45 L206.00,481.67 L208.00,481.88 L210.00,482.09 L212.00,482.29 L214.00,482.49 L216.00,482.68 L218.00,482.87 L220.00,483.05 L222.00,483.24 L224.00,483.41 L226.00,483.59 L228.00,483.76 L230.00,483.92 L232.00,484.09 L234.00,484.25 L236.00,484.40 L238.00,484.56 L240.00,484.71 L242.00,484.86 L244.00,485.00 L246.00,485.14 L248.00,485.28 L250.00,485.42 L252.00,485.56 L254.00,485.69 L256.00,485.82 L258.00,485.95 L260.00,486.07 L262.00,486.20 L264.00,486.32 L266.00,486.44 L268.00,486.56 L270.00,486.67 L272.00,486.79 L274.00,486.90 L276.00,487.01 L278.00,487.12 L280.00,487.23 L282.00,487.33 L284.00,487.43 L286.00,487.54 L288.00,487.64 L290.00,487.74 L292.00,487.84 L294.00,487.93 L296.00,488.03 L298.00,488.12 L300.00,488.22 L302.00,488.31 L304.00,488.40 L306.00,488.49 L308.00,488.57 L310.00,488.66 L312.00,488.75 L314.00,488.83 L316.00,488.92 L318.00,489.00 L320.00,489.08 L322.00,489.16 L324.00,489.24 L326.00,489.32 L328.00,489.40 L330.00,489.47 L332.00,489.55 L334.00,489.63 L336.00,489.70 L338.00,489.77 L340.00,489.85 L342.00,489.92 L344.00,489.99 L346.00,490.06 L348.00,490.13 L350.00,490.20 L352.00,490.27 L354.00,490.34 L356.00,490.40 L358.00,490.47 L360.00,490.53 L362.00,490.60 L364.00,490.66 L366.00,490.73 L368.00,490.79 L370.00,490.85 L372.00,490.92 L374.00,490.98 L376.00,491.04 L378.00,491.10 L380.00,491.16 L382.00,491.22 L383.40,491.26" stroke="#fff" stroke-width="3.8" fill="none"/>
<path d="M57.25,344.50 L57.25,344.54 L57.50,347.72 L57.75,350.76 L58.00,353.67 L58.25,356.44 L58.50,359.10 L58.75,361.65 L59.00,364.09 L59.25,366.43 L59.50,368.69 L59.75,370.85 L60.00,372.94 L60.25,374.95 L60.50,376.88 L60.75,378.75 L61.00,380.55 L61.25,382.29 L61.50,383.97 L61.75,385.59 L62.00,387.16 L62.25,388.68 L62.50,390.15 L62.75,391.58 L63.00,392.96 L63.25,394.30 L63.50,395.59 L63.75,396.85 L64.00,398.07 L64.25,399.26 L64.50,400.41 L64.75,401.53 L65.00,402.62 L65.25,403.67 L65.50,404.70 L65.75,405.70 L66.00,406.67 L66.25,407.62 L66.50,408.54 L66.75,409.43 L67.00,410.30 L67.25,411.15 L67.50,411.98 L67.75,412.79 L68.00,413.57 L68.25,414.34 L68.50,415.09 L68.75,415.82 L69.00,416.53 L69.25,417.22 L69.50,417.90 L69.75,418.56 L70.00,419.20 L70.25,419.84 L70.50,420.45 L70.75,421.06 L71.00,421.65 L71.25,422.23 L71.50,422.79 L71.75,423.35 L72.00,423.89 L72.25,424.42 L72.50,424.94 L72.75,425.45 L73.00,425.95 L73.25,426.44 L73.50,426.92 L73.75,427.39 L74.00,427.85 L74.25,428.31 L74.50,428.75 L74.75,429.19 L75.00,429.62 L75.25,430.04 L75.50,430.46 L75.75,430.87 L76.00,431.27 L76.25,431.66 L76.50,432.05 L76.75,432.43 L77.00,432.81 L77.25,433.18 L77.50,433.54 L77.75,433.90 L78.00,434.25 L78.25,434.60 L78.50,434.94 L78.75,435.28 L79.00,435.61 L79.25,435.94 L79.50,436.26 L79.75,436.58 L80.00,436.89 L80.25,437.20 L80.50,437.50 L80.75,437.80 L81.00,438.10 L81.25,438.39 L81.50,438.68 L81.75,438.97 L82.00,439.25 L82.25,439.52 L82.50,439.80 L82.75,440.07 L83.00,440.34 L83.25,440.60 L83.50,440.86 L83.75,441.12 L84.00,441.38 L84.25,441.63 L84.50,441.88 L84.75,442.13 L85.00,442.37 L85.25,442.61 L85.50,442.85 L85.75,443.09 L86.00,443.32 L86.25,443.55 L86.50,443.78 L86.75,444.01 L87.00,444.23 L87.25,444.45 L87.50,444.67 L87.75,444.89 L88.00,445.11 L88.25,445.32 L88.50,445.53 L88.75,445.74 L89.00,445.95 L89.25,446.15 L89.50,446.36 L89.75,446.56 L90.00,446.76 L90.25,446.96 L90.50,447.16 L90.75,447.35 L91.00,447.55 L91.25,447.74 L91.50,447.93 L91.75,448.12 L92.00,448.30 L92.25,448.49 L92.50,448.67 L92.75,448.86 L93.00,449.04 L93.25,449.22 L93.50,449.40 L93.75,449.58 L94.00,449.75 L94.25,449.93 L94.50,450.10 L94.75,450.27 L95.00,450.45 L95.25,450.62 L95.50,450.78 L95.75,450.95 L96.00,451.12 L96.25,451.29 L96.50,451.45 L96.75,451.61 L97.00,451.78 L97.25,451.94 L97.50,452.10 L97.75,452.26 L98.00,452.42 L98.25,452.57 L98.50,452.73 L98.75,452.89 L99.00,453.04 L99.25,453.20 L99.50,453.35 L99.75,453.50 L100.00,453.65 L100.25,453.80 L100.50,453.95 L100.75,454.10 L101.00,454.25 L101.25,454.40 L101.50,454.54 L101.75,454.69 L102.00,454.83 L102.25,454.98 L102.50,455.12 L102.75,455.26 L103.00,455.40 L103.25,455.54 L103.50,455.68 L103.75,455.82 L104.00,455.96 L104.25,456.10 L104.50,456.23 L104.75,456.37 L105.00,456.51 L105.25,456.64 L105.50,456.77 L105.75,456.91 L106.00,457.04 L106.25,457.17 L106.50,457.30 L106.75,457.43 L107.00,457.56 L107.25,457.69 L107.50,457.82 L107.75,457.94 L108.00,458.07 L108.25,458.20 L108.50,458.32 L108.75,458.45 L109.00,458.57 L109.25,458.69 L109.50,458.82 L109.75,458.94 L110.00,459.06 L110.25,459.18 L110.50,459.30 L110.75,459.42 L111.00,459.54 L111.25,459.66 L111.50,459.78 L111.75,459.89 L112.00,460.01 L112.25,460.13 L112.50,460.24 L112.75,460.36 L113.00,460.47 L113.25,460.58 L113.50,460.70 L113.75,460.81 L114.00,460.92 L114.25,461.03 L114.50,461.14 L114.75,461.25 L115.00,461.36 L115.25,461.47 L115.50,461.58 L115.75,461.69 L116.00,461.80 L116.25,461.90 L116.50,462.01 L116.75,462.12 L117.00,462.22 L117.25,462.33 L117.50,462.43 L117.75,462.53 L118.00,462.64 L118.25,462.74 L118.50,462.84 L118.75,462.94 L119.00,463.05 L119.25,463.15 L119.50,463.25 L119.75,463.35 L120.00,463.45 L122.00,464.23 L124.00,464.98 L126.00,465.70 L128.00,466.40 L130.00,467.07 L132.00,467.72 L134.00,468.35 L136.00,468.95 L138.00,469.54 L140.00,470.10 L142.00,470.65 L144.00,471.18 L146.00,471.69 L148.00,472.19 L150.00,472.67 L152.00,473.14 L154.00,473.59 L156.00,474.03 L158.00,474.45 L160.00,474.86 L162.00,475.26 L164.00,475.65 L166.00,476.02 L168.00,476.39 L170.00,476.74 L172.00,477.08 L174.00,477.42 L176.00,477.74 L178.00,478.06 L180.00,478.36 L182.00,478.66 L184.00,478.95 L186.00,479.23 L188.00,479.50 L190.00,479.77 L192.00,480.03 L194.00,480.28 L196.00,480.52 L198.00,480.76 L200.00,481.00 L202.00,481.23 L204.00,481.45 L206.00,481.67 L208.00,481.88 L210.00,482.09 L212.00,482.29 L214.00,482.49 L216.00,482.68 L218.00,482.87 L220.00,483.05 L222.00,483.24 L224.00,483.41 L226.00,483.59 L228.00,483.76 L230.00,483.92 L232.00,484.09 L234.00,484.25 L236.00,484.40 L238.00,484.56 L240.00,484.71 L242.00,484.86 L244.00,485.00 L246.00,485.14 L248.00,485.28 L250.00,485.42 L252.00,485.56 L254.00,485.69 L256.00,485.82 L258.00,485.95 L260.00,486.07 L262.00,486.20 L264.00,486.32 L266.00,486.44 L268.00,486.56 L270.00,486.67 L272.00,486.79 L274.00,486.90 L276.00,487.01 L278.00,487.12 L280.00,487.23 L282.00,487.33 L284.00,487.43 L286.00,487.54 L288.00,487.64 L290.00,487.74 L292.00,487.84 L294.00,487.93 L296.00,488.03 L298.00,488.12 L300.00,488.22 L302.00,488.31 L304.00,488.40 L306.00,488.49 L308.00,488.57 L310.00,488.66 L312.00,488.75 L314.00,488.83 L316.00,488.92 L318.00,489.00 L320.00,489.08 L322.00,489.16 L324.00,489.24 L326.00,489.32 L328.00,489.40 L330.00,489.47 L332.00,489.55 L334.00,489.63 L336.00,489.70 L338.00,489.77 L340.00,489.85 L342.00,489.92 L344.00,489.99 L346.00,490.06 L348.00,490.13 L350.00,490.20 L352.00,490.27 L354.00,490.34 L356.00,490.40 L358.00,490.47 L360.00,490.53 L362.00,490.60 L364.00,490.66 L366.00,490.73 L368.00,490.79 L370.00,490.85 L372.00,490.92 L374.00,490.98 L376.00,491.04 L378.00,491.10 L380.00,491.16 L382.00,491.22 L383.40,491.26" stroke="#000" stroke-width="3.0" fill="none"/>
<path d="M51.6,312.9 V534.3 M48,530.7 H383.8 M48,530.7 H51.6 M48,503.6 H51.6 M48,476.4 H51.6 M48,449.3 H51.6 M48,422.1 H51.6 M48,395.0 H51.6 M48,367.9 H51.6 M48,340.7 H51.6 M48,313.4 H51.6 M130.7,530.7 V534.3 M214.8,530.7 V534.3 M299.4,530.7 V534.3 M383.4,530.7 V534.3" stroke="#000" stroke-width="1.6" fill="none"/>
<text transform="translate(45.8,535.7) scale(0.96,1)" text-anchor="end" font-size="13.3">0</text>
<text transform="translate(45.8,508.6) scale(0.96,1)" text-anchor="end" font-size="13.3">2</text>
<text transform="translate(45.8,481.4) scale(0.96,1)" text-anchor="end" font-size="13.3">4</text>
<text transform="translate(45.8,454.3) scale(0.96,1)" text-anchor="end" font-size="13.3">6</text>
<text transform="translate(45.8,427.1) scale(0.96,1)" text-anchor="end" font-size="13.3">8</text>
<text transform="translate(45.8,400.0) scale(0.96,1)" text-anchor="end" font-size="13.3">10</text>
<text transform="translate(45.8,372.9) scale(0.96,1)" text-anchor="end" font-size="13.3">12</text>
<text transform="translate(45.8,345.7) scale(0.96,1)" text-anchor="end" font-size="13.3">14</text>
<text transform="translate(45.8,318.4) scale(0.96,1)" text-anchor="end" font-size="13.3">16</text>
<text transform="translate(51.6,548.6) scale(0.96,1)" text-anchor="middle" font-size="13.3">0</text>
<text transform="translate(133.3,548.6) scale(0.96,1)" text-anchor="middle" font-size="13.3">500</text>
<text transform="translate(215,548.6) scale(0.96,1)" text-anchor="middle" font-size="13.3">1,000</text>
<text transform="translate(296.8,548.6) scale(0.96,1)" text-anchor="middle" font-size="13.3">1,500</text>
<text transform="translate(388.3,548.6) scale(0.96,1)" text-anchor="end" font-size="13.3">2,000</text>
<text transform="translate(19.9,528.3) rotate(-90)" font-size="16" font-weight="bold" textLength="211.2" lengthAdjust="spacingAndGlyphs">APPARENT HALF-LIFE (yrs)</text>
<text x="122.3" y="390.1" font-size="12.4" font-style="italic" textLength="189.6" lengthAdjust="spacingAndGlyphs">Conventional half-life assumption:</text>
<text x="193.2" y="402.1" font-size="12.4" font-style="italic" textLength="52" lengthAdjust="spacingAndGlyphs">7-9 years</text>
</g>
<text x="10.9" y="12.5" font-size="17.6" font-weight="bold" textLength="8.9" lengthAdjust="spacingAndGlyphs">a</text>
<text x="12.2" y="294.8" font-size="17.8" font-weight="bold" textLength="10.5" lengthAdjust="spacingAndGlyphs">b</text>
<text x="153.4" y="208.8" font-size="13" textLength="33.8" lengthAdjust="spacingAndGlyphs" paint-order="stroke" stroke="#fff" stroke-width="2" stroke-linejoin="round">males</text>
<text x="252.8" y="177.5" font-size="13" textLength="44.3" lengthAdjust="spacingAndGlyphs" paint-order="stroke" stroke="#fff" stroke-width="2" stroke-linejoin="round">females</text>
<g transform="translate(189.2,456.7) rotate(7.4)" font-weight="bold" font-style="italic" font-size="12.3" paint-order="stroke" stroke="#fff" stroke-width="1.6" stroke-linejoin="round"><text x="0" y="0">k</text><text x="9.9" y="1.5" font-size="6.9">e</text><text x="17.0" y="0" textLength="32" lengthAdjust="spacingAndGlyphs">=0.31</text><text x="53.4" y="0" textLength="13" lengthAdjust="spacingAndGlyphs">yr</text><text x="68.0" y="-6.8" font-size="7.6" textLength="6.6" lengthAdjust="spacingAndGlyphs">-1</text></g>
<g transform="translate(130.6,464.4) rotate(11.6)" font-weight="bold" font-style="italic" font-size="12.3" paint-order="stroke" stroke="#fff" stroke-width="1.6" stroke-linejoin="round"><text x="0" y="0">k</text><text x="9.9" y="1.5" font-size="6.9">e</text><text x="17.0" y="0" textLength="32" lengthAdjust="spacingAndGlyphs">=0.42</text><text x="53.4" y="0" textLength="13" lengthAdjust="spacingAndGlyphs">yr</text><text x="68.0" y="-6.8" font-size="7.6" textLength="6.6" lengthAdjust="spacingAndGlyphs">-1</text></g>
<g transform="translate(170.8,502.8) rotate(5.7)" font-weight="bold" font-style="italic" font-size="12.3" paint-order="stroke" stroke="#fff" stroke-width="1.6" stroke-linejoin="round"><text x="0" y="0">k</text><text x="9.9" y="1.5" font-size="6.9">e</text><text x="18.0" y="0" textLength="32" lengthAdjust="spacingAndGlyphs">=0.53</text><text x="54.0" y="0" textLength="13" lengthAdjust="spacingAndGlyphs">yr</text><text x="69.2" y="-6.8" font-size="7.6" textLength="6.6" lengthAdjust="spacingAndGlyphs">-1</text></g>
<text x="52.4" y="571.0" font-size="16" font-weight="bold" textLength="333.6" lengthAdjust="spacingAndGlyphs">SERUM LIPID TCDD CONCENTRATION (ppt)</text>
</svg></body></html>
